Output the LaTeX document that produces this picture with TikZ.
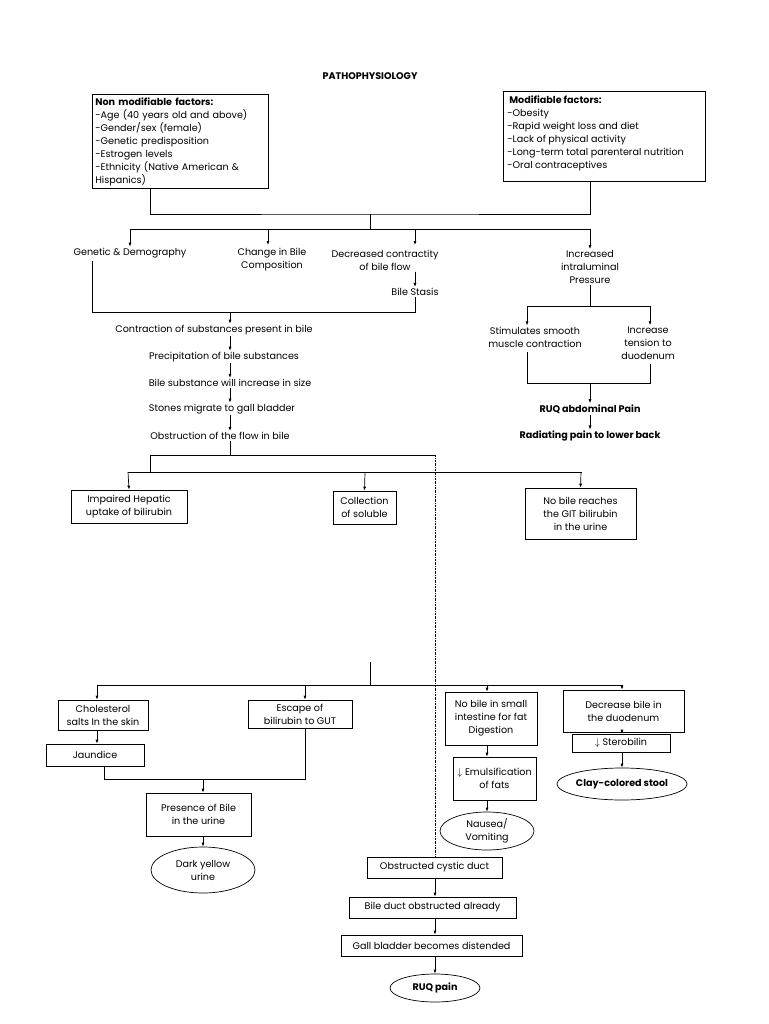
\documentclass[tikz,border=0pt]{standalone}
\usepackage{fontspec}
\setmainfont{Poppins}
\usetikzlibrary{arrows.meta,shapes.geometric}
\begin{document}
\begin{tikzpicture}[x=1pt,y=-1pt,font=\fontsize{9.6}{13}\selectfont,
  line width=0.7pt,
  t/.style={inner sep=1pt,align=center},
  b/.style={draw,inner sep=0pt,align=center},
  e/.style={draw,ellipse,inner sep=0pt,align=center},
  ar/.style={-{Latex[length=4pt,width=3pt]}},
  bd/.style={font=\fontsize{9.6}{13}\selectfont\bfseries}]
\useasboundingbox (0,0) rectangle (768,1024);
\node[t,bd] (title) at (370,76) {PATHOPHYSIOLOGY};
\node[draw,align=left,text width=170pt,inner sep=3pt,anchor=north west,font=\fontsize{9.6}{13}\selectfont] (nm) at (92,94) {\textbf{Non modifiable factors:}\\-Age (40 years old and above)\\-Gender/sex (female)\\-Genetic predisposition\\-Estrogen levels\\-Ethnicity (Native American \&\\Hispanics)};
\node[draw,align=justify,text width=194pt,inner sep=4pt,anchor=north west,font=\fontsize{9.6}{13}\selectfont] (mf) at (503,91) {\hspace*{2pt}\textbf{Modifiable factors:}\\-Obesity\\-Rapid weight loss and diet\\-Lack of physical activity\\-Long-term total parenteral nutrition\\-Oral contraceptives\\[-4pt]};
\coordinate (j1) at (370,214);
\draw (nm.south -| 150,0) |- (j1) -| (mf.south -| 590,0);
\draw (j1) -- (370,229);
\coordinate (h1l) at (130,229); \coordinate (h1r) at (590,229);
\draw (h1l) -- (h1r);
\node[t] (gen) at (130,253) {Genetic \& Demography};
\node[t] (chg) at (272,260) {Change in Bile\\Composition};
\node[t] (dec) at (385,260) {Decreased contractity\\of bile flow};
\node[t] (inc) at (590,267) {Increased\\intraluminal\\Pressure};
\node[t] (sta) at (415,292) {Bile Stasis};
\draw[ar] (h1l) -- (gen.north);
\draw[ar] (268,229) -- (268,245);
\draw[ar] (415,229) -- (415,245);
\draw[ar] (h1r) -- (inc.north);
\draw[ar] (415,272) -- (sta.north);
\coordinate (j2) at (230,312);
\draw (92,261) |- (415,312) -- (sta.south -| 415,0);
\node[t] (c1) at (214,330) {Contraction of substances present in bile};
\node[t] (c2) at (224,357) {Precipitation of bile substances};
\node[t] (c3) at (230,383) {Bile substance will increase in size};
\node[t] (c4) at (222,409) {Stones migrate to gall bladder};
\node[t] (c5) at (220,436) {Obstruction of the flow in bile};
\draw[ar] (j2) -- (c1.north -| 230,0);
\draw[ar] (c1.south -| 230,0) -- (c2.north -| 230,0);
\draw[ar] (c2.south -| 230,0) -- (c3.north -| 230,0);
\draw[ar] (c3.south -| 230,0) -- (c4.north -| 230,0);
\draw[ar] (c4.south -| 230,0) -- (c5.north -| 230,0);
% right branch
\draw (inc.south) -- (590,306);
\draw (527,306) -- (650,306);
\node[t] (sm) at (535,337) {Stimulates smooth\\muscle contraction};
\node[t] (it) at (648,343) {Increase\\tension to\\duodenum};
\draw[ar] (527,306) -- (sm.north -| 527,0);
\draw[ar] (650,306) -- (it.north -| 650,0);
\draw (527,352) |- (650,383) -- (650,364);
\node[t,bd] (ruq) at (590,409) {RUQ abdominal Pain};
\node[t,bd] (rad) at (590,436) {Radiating pain to lower back};
\draw[ar] (590,383) -- (ruq.north);
\draw[ar] (ruq.south) -- (rad.north);
% obstruction tree
\draw (c5.south -| 230,0) -- (230,455);
\draw (150,472) |- (435,455);
\draw (128,472) -- (582,472);
\draw[dash pattern=on 2pt off 1pt on 0.5pt off 1pt,line width=0.6pt] (435,455) -- (435,857);
\node[b,minimum width=116pt,minimum height=33pt] (imp) at (129,506.5) {Impaired Hepatic\\uptake of bilirubin};
\node[b,minimum width=63pt,minimum height=33pt] (col) at (364.5,507.5) {Collection\\of soluble};
\node[b,minimum width=111pt,minimum height=51pt] (nob) at (580.5,513.5) {No bile reaches\\the GIT bilirubin\\in the urine};
\draw[ar] (128,472) -- (imp.north);
\draw[ar] (365,472) -- (col.north);
\draw[ar] (581,472) -- (nob.north);
% lower tree
\draw (370,662) -- (370,685);
\draw (97,685) -- (622,685);
\node[b,minimum width=90pt,minimum height=30pt] (cho) at (103,715) {Cholesterol\\salts In the skin};
\node[b,minimum width=104pt,minimum height=28pt] (esc) at (300,714) {Escape of\\bilirubin to GUT};
\node[b,minimum width=98pt,minimum height=22pt] (jau) at (95,755) {Jaundice};
\node[b,minimum width=105pt,minimum height=43pt] (pre) at (198.5,814.5) {Presence of Bile\\in the urine};
\node[e,minimum width=104pt,minimum height=46pt] (dy) at (203,870) {Dark yellow\\urine};
\draw[ar] (97,685) -- (cho.north -| 97,0);
\draw[ar] (305,685) -- (esc.north -| 305,0);
\draw[ar] (cho.south -| 97,0) -- (jau.north -| 97,0);
\draw (jau.south -| 104,0) |- (305,779) -- (esc.south -| 305,0);
\draw[ar] (203,779) -- (pre.north -| 203,0);
\draw[ar] (pre.south -| 203,0) -- (dy.north);
\node[b,minimum width=92pt,minimum height=53pt] (nbs) at (491,718.5) {No bile in small\\intestine for fat\\Digestion};
\node[b,minimum width=83pt,minimum height=43pt] (emu) at (494.5,778.5) {$\downarrow$\;Emulsification\\of fats};
\node[e,minimum width=94pt,minimum height=38pt] (nau) at (487,831) {Nausea/\\Vomiting};
\draw[ar] (487,685) -- (nbs.north -| 487,0);
\draw[ar] (nbs.south -| 487,0) -- (emu.north -| 487,0);
\draw[ar] (emu.south -| 487,0) -- (nau.north);
\node[b,minimum width=121pt,minimum height=42pt] (dbd) at (623.5,711) {Decrease bile in\\the duodenum};
\node[b,minimum width=98pt,minimum height=18pt] (ste) at (621,743) {$\downarrow$\;Sterobilin};
\node[e,bd,minimum width=130pt,minimum height=32pt] (cla) at (622,784) {Clay-colored stool};
\draw[ar] (622,685) -- (dbd.north -| 622,0);
\draw[ar] (dbd.south -| 622,0) -- (ste.north -| 622,0);
\draw[ar] (ste.south -| 622,0) -- (cla.north);
% bottom chain
\node[b,minimum width=135pt,minimum height=21pt] (ocd) at (434.5,867.5) {Obstructed cystic duct};
\node[b,minimum width=167pt,minimum height=21pt] (bdo) at (432.5,907.5) {Bile duct obstructed already};
\node[b,minimum width=181pt,minimum height=21pt] (gbd) at (431.5,945.5) {Gall bladder becomes distended};
\node[e,bd,minimum width=90pt,minimum height=28pt] (rp) at (435,988) {RUQ pain};
\draw[ar] (ocd.south -| 435,0) -- (bdo.north -| 435,0);
\draw[ar] (bdo.south -| 435,0) -- (gbd.north -| 435,0);
\draw[ar] (gbd.south -| 435,0) -- (rp.north);
\end{tikzpicture}
\end{document}
